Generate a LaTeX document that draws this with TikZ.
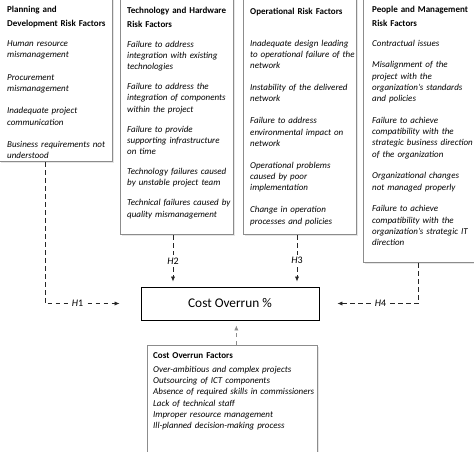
\documentclass[tikz,border=0pt]{standalone}
\usepackage{fontspec}
\setmainfont{Carlito}
\usetikzlibrary{arrows.meta,shadows}

\tikzset{
    riskbox/.style={draw=black!45, line width=0.7pt, fill=white, inner sep=0pt,
        drop shadow={shadow xshift=1.2pt, shadow yshift=-1.2pt, opacity=0.2}},
    risktext/.style={anchor=base west, align=left, inner sep=0pt, text width=112pt,
        font=\fontsize{9}{11.3}\selectfont},
    hlink/.style={draw=black!85, line width=0.75pt, dash pattern=on 4.5pt off 3.5pt,
        -{Latex[length=5pt,width=4.2pt]}},
    hlabel/.style={fill=white, inner sep=3pt, font=\fontsize{10}{12}\selectfont}
}

\begin{document}
\begin{tikzpicture}[x=1pt, y=-1pt]
        \useasboundingbox (0,0) rectangle (474,451);
        \clip (0,0) rectangle (474,451);

        % risk factor columns
        \node[riskbox, minimum width=113pt, minimum height=182pt, anchor=south west] (plan) at (-1,162) {};
        \node[riskbox, minimum width=113pt, minimum height=255pt, anchor=south west] (tech) at (120,235) {};
        \node[riskbox, minimum width=113pt, minimum height=255pt, anchor=south west] (oper) at (243,235) {};
        \node[riskbox, minimum width=120pt, minimum height=283pt, anchor=south west] (people) at (363,263) {};

        \node[risktext] (plantxt) at (7,12.5) {%
            \textbf{Planning and}\\[2.7pt]
            \textbf{Development Risk Factors}\\[8.7pt]
            \textit{Human resource}\\
            \textit{mismanagement}\\[11pt]
            \textit{Procurement}\\
            \textit{mismanagement}\\[11pt]
            \textit{Inadequate project}\\
            \textit{communication}\\[11pt]
            \textit{Business requirements not}\\
            \textit{understood}};

        \node[risktext] (techtxt) at (127,13) {%
            \textbf{Technology and Hardware}\\[2.7pt]
            \textbf{Risk Factors}\\[8.7pt]
            \textit{Failure to address}\\
            \textit{integration with existing}\\
            \textit{technologies}\\[8.6pt]
            \textit{Failure to address the}\\
            \textit{integration of components}\\
            \textit{within the project}\\[8.6pt]
            \textit{Failure to provide}\\
            \textit{supporting infrastructure}\\
            \textit{on time}\\[8.6pt]
            \textit{Technology failures caused}\\
            \textit{by unstable project team}\\[8.6pt]
            \textit{Technical failures caused by}\\
            \textit{quality mismanagement}};

        \node[risktext] (opertxt) at (250,14) {%
            \textbf{Operational Risk Factors}\\[20.7pt]
            \textit{Inadequate design leading}\\
            \textit{to operational failure of the}\\
            \textit{network}\\[10.6pt]
            \textit{Instability of the delivered}\\
            \textit{network}\\[10.6pt]
            \textit{Failure to address}\\
            \textit{environmental impact on}\\
            \textit{network}\\[10.6pt]
            \textit{Operational problems}\\
            \textit{caused by poor}\\
            \textit{implementation}\\[10.6pt]
            \textit{Change in operation}\\
            \textit{processes and policies}};

        \node[risktext] (peopletxt) at (372,12) {%
            \textbf{People and Management}\\[2.7pt]
            \textbf{Risk Factors}\\[8.7pt]
            \textit{Contractual issues}\\[10.4pt]
            \textit{Misalignment of the}\\
            \textit{project with the}\\
            \textit{organization’s standards}\\
            \textit{and policies}\\[10.4pt]
            \textit{Failure to achieve}\\
            \textit{compatibility with the}\\
            \textit{strategic business direction}\\
            \textit{of the organization}\\[10.4pt]
            \textit{Organizational changes}\\
            \textit{not managed properly}\\[10.4pt]
            \textit{Failure to achieve}\\
            \textit{compatibility with the}\\
            \textit{organization’s strategic IT}\\
            \textit{direction}};

        % dependent variable
        \node[draw=black, line width=0.9pt, minimum width=178pt, minimum height=33pt,
            font=\fontsize{13.3}{15}\selectfont] (cost) at (230,303.5) {Cost Overrun \%};

        % control factors
        \node[riskbox, minimum width=170pt, minimum height=115pt, anchor=north west] (factors) at (147,345) {};
        \node[risktext, text width=165pt] (factorstxt) at (153,358) {%
            \textbf{Cost Overrun Factors}\\[2.8pt]
            \textit{Over-ambitious and complex projects}\\
            \textit{Outsourcing of ICT components}\\
            \textit{Absence of required skills in commissioners}\\
            \textit{Lack of technical staff}\\
            \textit{Improper resource management}\\
            \textit{Ill-planned decision-making process}};

        % hypotheses
        \coordinate (h1x) at (45,0);
        \coordinate (h2x) at (173,0);
        \coordinate (h3x) at (297,0);
        \coordinate (h4x) at (418,0);
        \draw[hlink, shorten >=21pt] (plan.south -| h1x) |- node[hlabel, pos=0.67] {\textit{H}1} (cost.west);
        \draw[hlink, shorten >=5pt] (tech.south -| h2x) -- node[hlabel] {\textit{H}2} (cost.north -| h2x);
        \draw[hlink, shorten >=5pt] (oper.south -| h3x) -- node[hlabel] {\textit{H}3} (cost.north -| h3x);
        \draw[hlink, shorten >=18pt] (people.south -| h4x) |- node[hlabel, pos=0.69] {\textit{H}4} (cost.east);
        \draw[hlink, draw=black!45, shorten >=5pt] ([xshift=4pt]factors.north) -- ([xshift=4pt]factors.north |- cost.south);

    \end{tikzpicture}
\end{document}
